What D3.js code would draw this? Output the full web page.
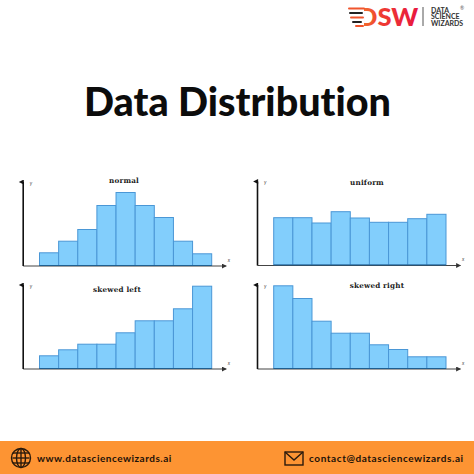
<!DOCTYPE html>
<html>
<head>
<meta charset="utf-8">
<script src="https://cdnjs.cloudflare.com/ajax/libs/d3/7.8.5/d3.min.js"></script>
<style>
html, body { margin: 0; padding: 0; background: #fff; }
svg { display: block; }
text { font-family: Lato, sans-serif; font-variant-ligatures: none; }
</style>
</head>
<body>
<div id="chart"></div>
<script>
// bar heights
const bins = ["1", "2", "3", "4", "5", "6", "7", "8", "9"];
const normalValues = [12.7, 24.3, 36, 60, 73, 60, 48, 24.3, 11.7];
const uniformValues = [47.3, 47.3, 42, 53.3, 47, 42.7, 42.7, 46.3, 50.7];
const skewedLeftValues = [12.7, 18.7, 24.3, 24.3, 35.7, 47.7, 47.7, 59.7, 82.3];
const skewedRightValues = [82.7, 70, 47.3, 35.3, 35.3, 23.7, 19, 11.7, 11.7];

const width = 474;
const height = 474;

const svg = d3.select("#chart")
    .append("svg")
    .attr("width", width)
    .attr("height", height);

const defs = svg.append("defs");
defs.append("marker")
    .attr("id", "arrowDark")
    .attr("viewBox", "0 0 8 8")
    .attr("refX", 4).attr("refY", 7)
    .attr("markerUnits", "userSpaceOnUse")
    .attr("markerWidth", 5).attr("markerHeight", 6)
    .attr("orient", "auto")
    .append("path").attr("d", "M0,8 L4,0 L8,8 Z").attr("fill", "#111");
defs.append("marker")
    .attr("id", "arrowGray")
    .attr("viewBox", "0 0 8 8")
    .attr("refX", 7).attr("refY", 4)
    .attr("markerUnits", "userSpaceOnUse")
    .attr("markerWidth", 5).attr("markerHeight", 5)
    .attr("orient", "auto")
    .append("path").attr("d", "M0,0 L8,4 L0,8 Z").attr("fill", "#333");

const grad = defs.append("linearGradient").attr("id", "dswGrad");
grad.append("stop").attr("offset", "0%").attr("stop-color", "#f47a2c");
grad.append("stop").attr("offset", "40%").attr("stop-color", "#ee3a32");
grad.append("stop").attr("offset", "100%").attr("stop-color", "#e8173f");

// title
svg.append("text")
    .attr("x", 237.5)
    .attr("y", 116)
    .attr("text-anchor", "middle")
    .attr("font-size", 39.5)
    .attr("font-weight", 900)
    .attr("fill", "#0c0c0c")
    .text("Data Distribution");

function drawPanel(o) {
    const x = d3.scaleBand().domain(bins).range([o.left, o.right]);
    const y = d3.scaleLinear().domain([0, 100]).range([o.base, o.base - 100]);

    const g = svg.append("g");

    g.selectAll("rect")
        .data(o.values)
        .enter().append("rect")
        .attr("x", (d, i) => x(bins[i]))
        .attr("y", d => y(d))
        .attr("width", x.bandwidth())
        .attr("height", d => y(0) - y(d))
        .attr("fill", "#82cefc")
        .attr("stroke", "#4a97d6")
        .attr("stroke-width", 1);

    // x axis, no ticks
    const xAxis = g.append("g")
        .attr("transform", `translate(0,${o.base})`)
        .call(d3.axisBottom(d3.scaleLinear().domain([0, 1]).range([o.axisX, o.axisX + 203])).tickValues([]).tickSizeOuter(0));
    xAxis.select(".domain")
        .attr("stroke", "#444")
        .attr("stroke-width", 1.2)
        .attr("marker-end", "url(#arrowGray)");

    // y axis, no ticks
    const yAxis = g.append("g")
        .attr("transform", `translate(${o.axisX},0)`)
        .call(d3.axisLeft(d3.scaleLinear().domain([0, 1]).range([o.base, o.base - 84])).tickValues([]).tickSizeOuter(0));
    yAxis.select(".domain")
        .attr("stroke", "#111")
        .attr("stroke-width", 1.6)
        .attr("marker-end", "url(#arrowDark)");

    // baseline over the bars
    g.append("line")
        .attr("x1", o.left).attr("x2", o.right)
        .attr("y1", o.base).attr("y2", o.base)
        .attr("stroke", "#1f5f90")
        .attr("stroke-width", 1);

    g.append("text")
        .attr("x", o.axisX + 7).attr("y", o.base - 81)
        .attr("font-size", 5).attr("font-style", "italic").attr("fill", "#555")
        .text("y");
    g.append("text")
        .attr("x", o.axisX + 205).attr("y", o.base - 4)
        .attr("font-size", 5).attr("font-style", "italic").attr("fill", "#555")
        .text("x");

    g.append("text")
        .attr("x", o.titleX).attr("y", o.titleY)
        .attr("text-anchor", "middle")
        .style("font-family", "'DejaVu Serif', serif")
        .attr("font-weight", "bold")
        .attr("font-size", 7.2)
        .attr("letter-spacing", 0.2)
        .attr("fill", "#222")
        .text(o.title);
}

drawPanel({ values: normalValues, title: "normal", left: 39.5, right: 211.7, base: 265.5, axisX: 22.7, titleX: 124, titleY: 183 });
drawPanel({ values: uniformValues, title: "uniform", left: 273.7, right: 446, base: 265, axisX: 257, titleX: 367, titleY: 185 });
drawPanel({ values: skewedLeftValues, title: "skewed left", left: 39.5, right: 211.7, base: 368.5, axisX: 22.7, titleX: 117, titleY: 292 });
drawPanel({ values: skewedRightValues, title: "skewed right", left: 273.7, right: 446, base: 368.5, axisX: 257, titleX: 377, titleY: 288 });

// logo
const logo = svg.append("g");
logo.append("text")
    .attr("x", 358).attr("y", 26)
    .attr("font-size", 25.5).attr("font-weight", 900)
    .attr("fill", "url(#dswGrad)")
    .text("DSW");
// the D stem is replaced by the dashes
logo.append("rect")
    .attr("x", 346).attr("y", 6).attr("width", 18).attr("height", 21)
    .attr("fill", "#fff");
logo.selectAll("line.dash")
    .data([[349, 364, 8.5], [350, 362, 13], [351, 363, 17.5], [353, 361, 22], [356, 363, 26]])
    .enter().append("line")
    .attr("x1", d => d[0]).attr("x2", d => d[1])
    .attr("y1", d => d[2]).attr("y2", d => d[2])
    .attr("stroke", (d, i) => i % 2 ? "#222" : "#f0552d")
    .attr("stroke-width", 2)
    .attr("stroke-linecap", "round");
logo.append("line")
    .attr("x1", 423).attr("x2", 423).attr("y1", 7).attr("y2", 26)
    .attr("stroke", "#555").attr("stroke-width", 1);
logo.selectAll("text.brand")
    .data(["DATA", "SCIENCE", "WIZARDS"])
    .enter().append("text")
    .attr("x", 431)
    .attr("y", (d, i) => 12.5 + i * 6.8)
    .attr("font-size", 7).attr("font-weight", 700).attr("fill", "#333")
    .text(d => d);
logo.append("text")
    .attr("x", 460).attr("y", 10)
    .attr("font-size", 5).attr("fill", "#555")
    .text("®");

// footer band
svg.append("rect")
    .attr("x", 0).attr("y", 441)
    .attr("width", width).attr("height", 33)
    .attr("fill", "#fd9433");

const globe = svg.append("g")
    .attr("transform", "translate(21,458)")
    .attr("fill", "none")
    .attr("stroke", "#2a1a0c")
    .attr("stroke-width", 1.4);
globe.append("circle").attr("r", 9.5);
globe.append("ellipse").attr("rx", 4.5).attr("ry", 9.5);
globe.append("line").attr("x1", 0).attr("x2", 0).attr("y1", -9.5).attr("y2", 9.5);
[-5, 0, 5].forEach(dy => {
    globe.append("line").attr("x1", -8.5).attr("x2", 8.5).attr("y1", dy).attr("y2", dy);
});

const mail = svg.append("g")
    .attr("fill", "none")
    .attr("stroke", "#2a1a0c")
    .attr("stroke-width", 1.4);
mail.append("rect").attr("x", 285).attr("y", 452).attr("width", 18).attr("height", 13);
mail.append("path").attr("d", "M285,452 L294,460 L303,452");

svg.append("text")
    .attr("x", 37).attr("y", 462)
    .attr("font-size", 10).attr("font-weight", 700)
    .attr("letter-spacing", 0.5).attr("fill", "#1c1108")
    .text("www.datasciencewizards.ai");
svg.append("text")
    .attr("x", 309).attr("y", 462)
    .attr("font-size", 10).attr("font-weight", 700)
    .attr("letter-spacing", 0.58).attr("fill", "#1c1108")
    .text("contact@datasciencewizards.ai");
</script>
</body>
</html>
